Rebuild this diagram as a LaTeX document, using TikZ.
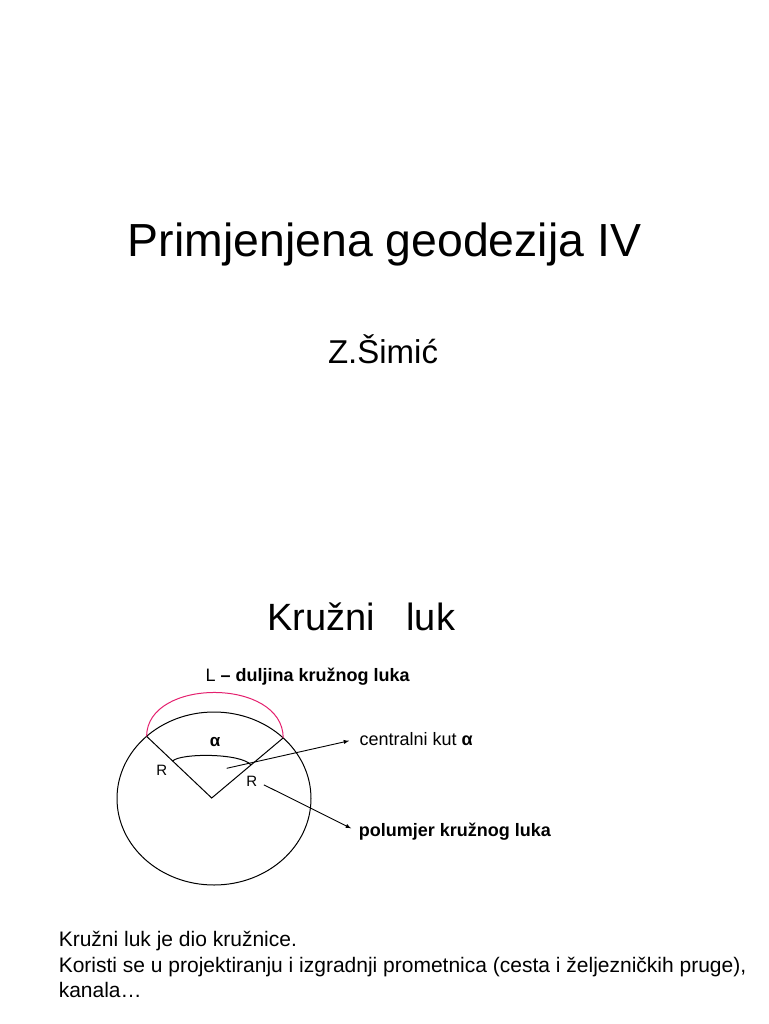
\documentclass[tikz,border=0pt]{standalone}
\usepackage{fontspec}
\setmainfont{Liberation Sans}
\usetikzlibrary{calc}
\definecolor{lukpink}{RGB}{228,32,110}
\begin{document}
\begin{tikzpicture}[x=1pt,y=-1pt,line width=1pt,
  txt/.style={inner sep=0pt,font=\fontsize{#1}{#1}\selectfont},
  pointer/.style={-latex,line width=0.9pt}]
\useasboundingbox (0,0) rectangle (768,1024);
\node[txt=46.4,anchor=base] (title) at (384.5,256) {Primjenjena geodezija IV};
\node[txt=33,anchor=base] (autor) at (383,363) {Z.Šimić};
\node[txt=38,anchor=base west] (naslov) at (266.7,630) {Kružni\ \ \ luk};
\node[txt=18,anchor=base west] (duljina) at (205,681) {L \textbf{– duljina kružnog luka}};
\node[txt=18,anchor=base west] (kut) at (359,745) {centralni kut \textbf{α}};
\node[txt=18,anchor=base west] (polumjer) at (358.3,836.7) {\textbf{polumjer kružnog luka}};
\node[txt=21,anchor=base west] (opisa) at (58.3,946.7) {Kružni luk je dio kružnice.};
\node[txt=21,anchor=base west] (opisb) at (58.3,972) {Koristi se u projektiranju i izgradnji prometnica (cesta i željezničkih pruge),};
\node[txt=21,anchor=base west] (opisc) at (58.3,997.3) {kanala…};
\coordinate (S) at (214,798.5);
\coordinate (O) at (211.7,798);
\coordinate (A) at (146.6,736.3);
\coordinate (B) at (283.2,737.9);
\coordinate (K) at (226.7,768.3);
\draw (S) ellipse [x radius=97,y radius=86.5];
\draw (A) -- (O) -- (B);
\draw[lukpink] (A) .. controls (147,677.6) and (283,677.6) .. (B);
\draw ($(O)!0.6!(A)$) .. controls +(8,-8) and +(-10,-12) .. ($(O)!0.55!(B)$);
\node[txt=17,font=\fontsize{17}{17}\selectfont\bfseries] (alfa) at (215,741.7) {α};
\node[txt=15] (Ra) at (161.7,770) {R};
\node[txt=15] (Rb) at (251.7,781.7) {R};
\draw[pointer,shorten >=10pt] (K) -- (kut.west);
\draw[pointer,shorten <=7pt,shorten >=8pt] (Rb.east) -- (polumjer.west);
\end{tikzpicture}
\end{document}
